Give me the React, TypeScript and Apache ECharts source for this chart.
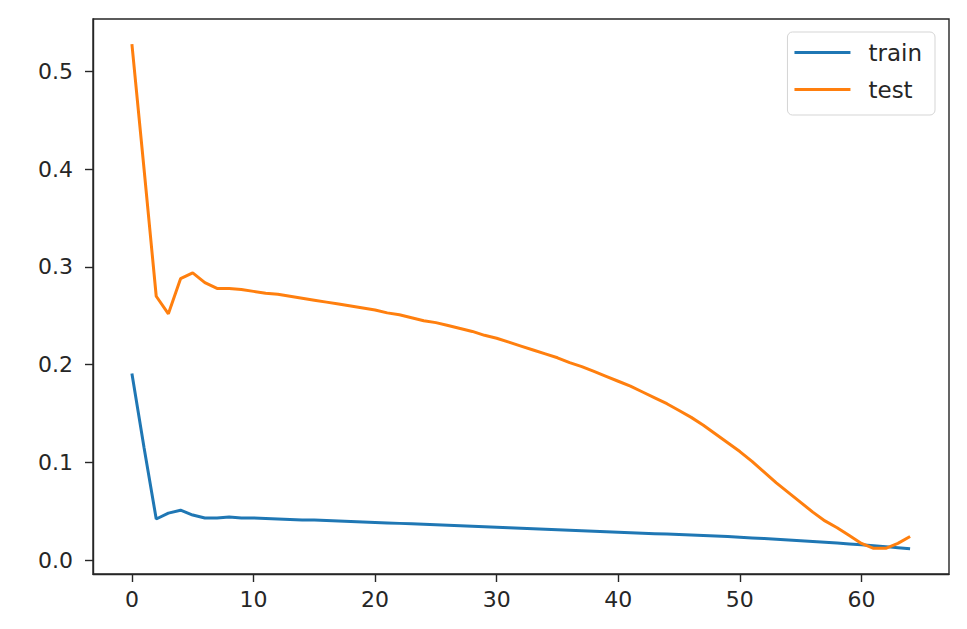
import React, { useEffect, useRef } from 'react';
import * as echarts from 'echarts';

// epoch index 0..64
const epochs: number[] = Array.from({ length: 65 }, (_, i) => i);

const trainLoss: number[] = [
  0.191, 0.115, 0.042, 0.048, 0.051, 0.046, 0.043, 0.043, 0.044, 0.043,
  0.043, 0.0425, 0.042, 0.0415, 0.041, 0.041, 0.0405, 0.040, 0.0395, 0.039,
  0.0385, 0.038, 0.0375, 0.037, 0.0365, 0.036, 0.0355, 0.035, 0.0345, 0.034,
  0.0335, 0.033, 0.0325, 0.032, 0.0315, 0.031, 0.0305, 0.030, 0.0295, 0.029,
  0.0285, 0.028, 0.0275, 0.027, 0.0265, 0.026, 0.0255, 0.025, 0.0245, 0.024,
  0.0233, 0.0226, 0.0219, 0.0212, 0.0205, 0.0197, 0.0189, 0.0181, 0.0173, 0.0165,
  0.0157, 0.0147, 0.0137, 0.0126, 0.0115,
];

const testLoss: number[] = [
  0.528, 0.40, 0.270, 0.252, 0.288, 0.294, 0.284, 0.278, 0.278, 0.277,
  0.275, 0.273, 0.272, 0.270, 0.268, 0.266, 0.264, 0.262, 0.260, 0.258,
  0.256, 0.253, 0.251, 0.248, 0.245, 0.243, 0.240, 0.237, 0.234, 0.230,
  0.227, 0.223, 0.219, 0.215, 0.211, 0.207, 0.202, 0.198, 0.193, 0.188,
  0.183, 0.178, 0.172, 0.166, 0.160, 0.153, 0.146, 0.138, 0.129, 0.120,
  0.111, 0.101, 0.090, 0.079, 0.069, 0.059, 0.049, 0.040, 0.033, 0.025,
  0.017, 0.012, 0.012, 0.017, 0.024,
];

const xTicks: number[] = [0, 10, 20, 30, 40, 50, 60];
const yTicks: number[] = [0, 0.1, 0.2, 0.3, 0.4, 0.5];

const seriesNames: string[] = ['train', 'test'];
const seriesColors: string[] = ['#1f77b4', '#ff7f0e'];

const FONT = "'DejaVu Sans', sans-serif";
const INK = '#262626';

const App: React.FC = () => {
  const chartRef = useRef<HTMLDivElement>(null);

  useEffect(() => {
    if (!chartRef.current) return;
    const chart = echarts.init(chartRef.current, undefined, { renderer: 'svg' });

    const datasets = [trainLoss, testLoss];
    const allVals = [...trainLoss, ...testLoss];
    const lo = Math.min(...allVals);
    const hi = Math.max(...allVals);
    const pad = (hi - lo) * 0.05;
    const xPad = (epochs[epochs.length - 1] - epochs[0]) * 0.05;

    const axisLineStyle = { color: INK, width: 1.4 };

    const option: echarts.EChartsOption = {
      animation: false,
      backgroundColor: '#ffffff',
      grid: {
        left: 93,
        top: 19,
        right: 18,
        bottom: 55,
        show: true,
        borderColor: INK,
        borderWidth: 1.4,
        containLabel: false,
      },
      legend: {
        orient: 'vertical',
        right: 32,
        top: 32,
        icon: 'rect',
        itemWidth: 56,
        itemHeight: 3,
        itemGap: 14,
        padding: [9, 13, 14, 7],
        backgroundColor: '#ffffff',
        borderColor: '#d5d5d5',
        borderWidth: 1,
        borderRadius: 5,
        textStyle: {
          fontFamily: FONT,
          fontSize: 23,
          color: INK,
          padding: [0, 0, 0, 13],
        },
        data: seriesNames,
      },
      xAxis: {
        type: 'value',
        min: epochs[0] - xPad,
        max: epochs[epochs.length - 1] + xPad,
        splitLine: { show: false },
        axisLine: { show: true, lineStyle: axisLineStyle, onZero: false },
        axisTick: {
          show: true,
          length: 8,
          lineStyle: axisLineStyle,
          customValues: xTicks,
        },
        axisLabel: {
          fontFamily: FONT,
          fontSize: 22,
          color: INK,
          margin: 14,
          customValues: xTicks,
          formatter: (v: number) => String(v),
        },
      },
      yAxis: {
        type: 'value',
        min: lo - pad,
        max: hi + pad,
        splitLine: { show: false },
        axisLine: { show: true, lineStyle: axisLineStyle, onZero: false },
        axisTick: {
          show: true,
          length: 8,
          lineStyle: axisLineStyle,
          customValues: yTicks,
        },
        axisLabel: {
          fontFamily: FONT,
          fontSize: 22,
          color: INK,
          margin: 20,
          customValues: yTicks,
          formatter: (v: number) => v.toFixed(1),
        },
      },
      series: seriesNames.map((name, i) => ({
        name,
        type: 'line',
        data: epochs.map((e, j) => [e, datasets[i][j]]),
        symbol: 'none',
        showSymbol: false,
        lineStyle: { color: seriesColors[i], width: 3 },
        itemStyle: { color: seriesColors[i] },
      })),
    };

    chart.setOption(option);
    return () => {
      chart.dispose();
    };
  }, []);

  return (
    <div
      ref={chartRef}
      style={{ position: 'fixed', left: 0, top: 0, width: 967, height: 629 }}
    />
  );
};

export default App;
